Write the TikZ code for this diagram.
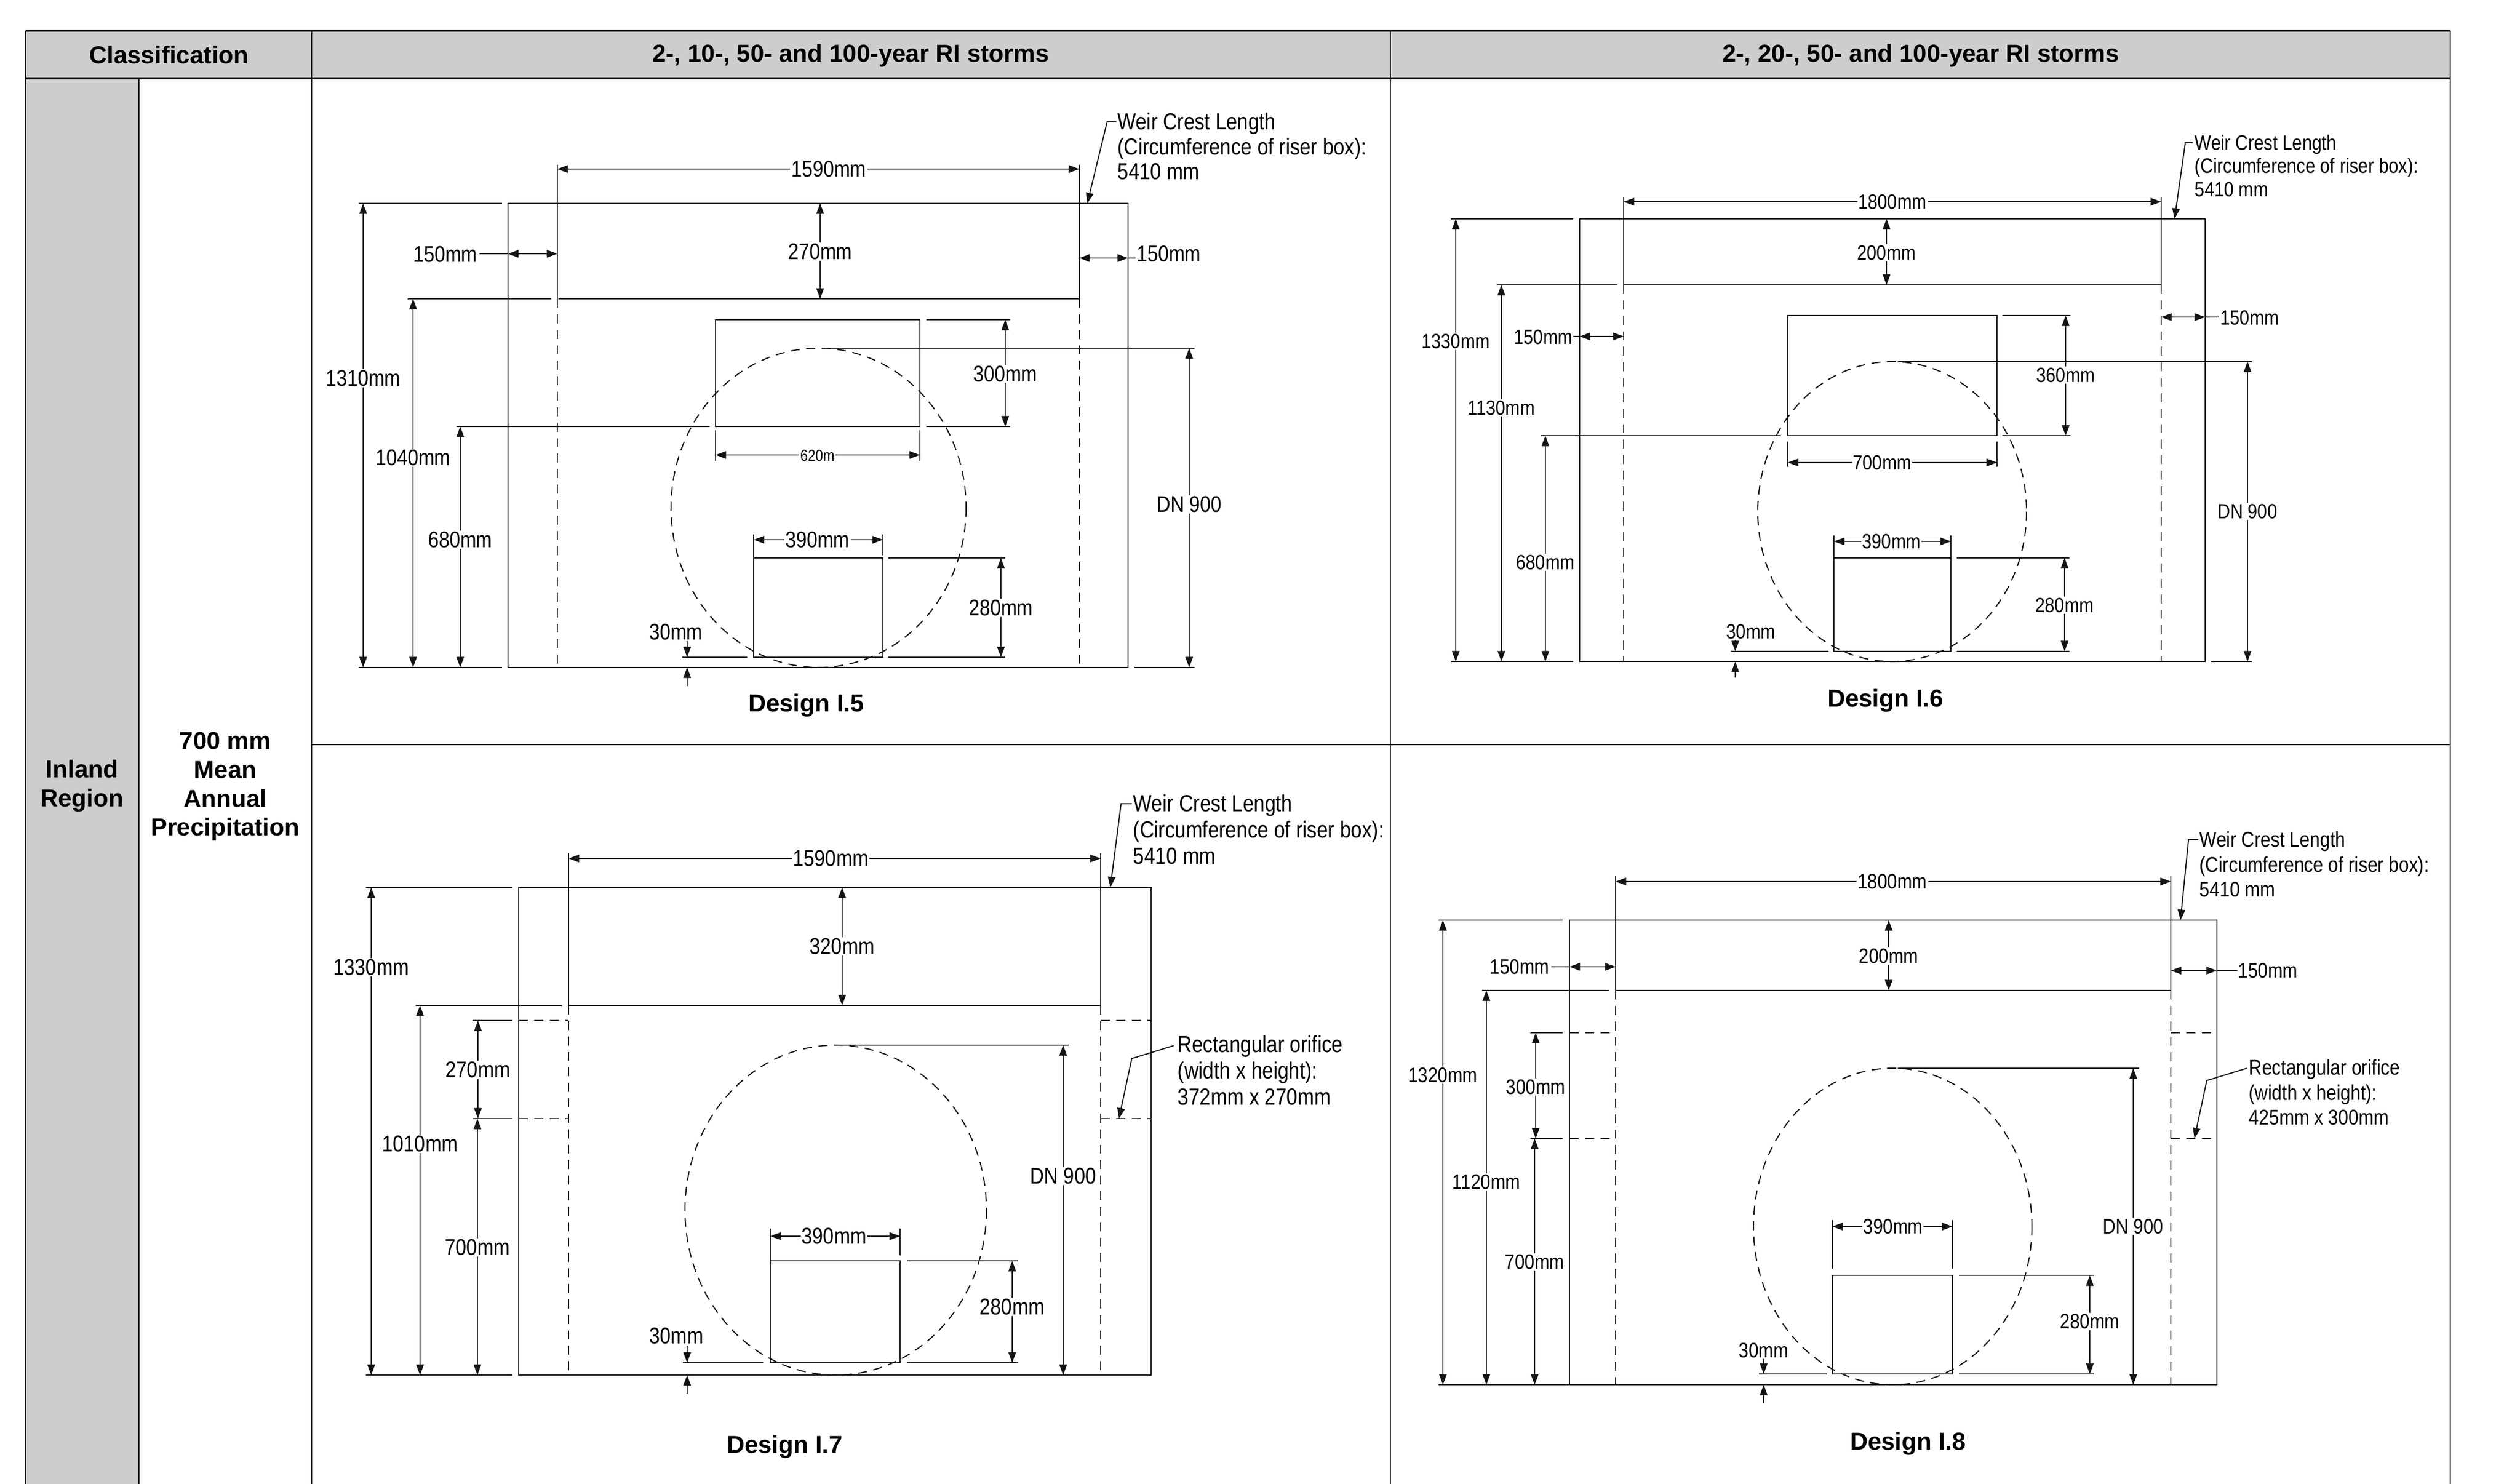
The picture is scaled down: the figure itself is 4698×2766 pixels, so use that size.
\documentclass[tikz,border=0pt]{standalone}
\usepackage{fontspec}
\usetikzlibrary{arrows.meta}
\setmainfont{Liberation Sans}
\newfontfamily\dimfam[FakeStretch=0.85]{Liberation Sans}
\definecolor{headgray}{RGB}{206,205,206}
\definecolor{inkgray}{RGB}{20,20,20}
\newcommand{\panelfont}[2]{\dimfam\fontsize{#1}{#2}\selectfont}
\tikzset{
    gridline/.style={line width=0.6pt},
    headline/.style={line width=0.9pt},
    plainln/.style={line width=0.65pt, draw=inkgray},
    hiddenln/.style={line width=0.6pt, draw=inkgray, dash pattern=on 4.8pt off 3.4pt},
    dimline/.style={line width=0.58pt, draw=inkgray, {Triangle[length=5.6pt,width=4pt]}-{Triangle[length=5.6pt,width=4pt]}},
    leaderln/.style={line width=0.58pt, draw=inkgray, -{Triangle[length=5.6pt,width=4pt]}},
    lbl/.style={fill=white, inner sep=0.6pt, text=black},
    note/.style={anchor=west, align=left, inner sep=0pt, text=black},
    headtext/.style={font=\fontsize{13}{15.3}\selectfont\bfseries, align=center, inner sep=0pt},
    designtext/.style={font=\fontsize{13}{15}\selectfont\bfseries, inner sep=0pt}
}
\begin{document}
\begin{tikzpicture}[x=0.01cm, y=-0.01cm]
\useasboundingbox (0,0) rectangle (4698,2766);
% table
\fill[headgray] (48,57) rectangle (4568,146);
\fill[headgray] (48,146) rectangle (259,2766);
\draw[gridline] (48,57) -- (48,2766) (259,146) -- (259,2766) (581,57) -- (581,2766)
    (2592,57) -- (2592,2766) (4568,57) -- (4568,2766) (581,1388) -- (4568,1388);
\draw[headline] (48,57) -- (4568,57) (48,146) -- (4568,146);
\node[headtext] (classhead) at (315,102) {Classification};
\node[headtext] (stormsa) at (1586,104) {2-, 10-, 50- and 100-year RI storms};
\node[headtext] (stormsb) at (3581,104) {2-, 20-, 50- and 100-year RI storms};
\node[headtext] (region) at (153,1465) {Inland\\Region};
\node[headtext] (precip) at (420,1466) {700 mm\\Mean\\Annual\\Precipitation};

% Design I.5
\begin{scope}[lbl/.append style={font=\panelfont{12}{13.2}}, note/.append style={font=\panelfont{12.25}{13.2}}]
\draw[plainln] (947,379) rectangle (2103,1244);
\draw[plainln] (669,379) -- (936,379) (669,1244) -- (936,1244) (2115,1244) -- (2227,1244)
    (1039,307) -- (1039,557) (2012,307) -- (2012,557) (1041,557) -- (2012,557) (760,557) -- (1028,557)
    (1334,596) rectangle (1715,795) (1727,596) -- (1883,596) (1727,795) -- (1883,795) (851,795) -- (1323,795)
    (1334,802) -- (1334,859) (1715,802) -- (1715,859)
    (1405,1040) rectangle (1646,1225) (1656,1040) -- (1874,1040) (1656,1225) -- (1874,1225) (1272,1225) -- (1393,1225)
    (1405,996) -- (1405,1040) (1646,996) -- (1646,1035) (1541,649) -- (2227,649)
    (894,473) -- (947,473) (2103,481) -- (2119,481) (1281,1189) -- (1281,1225);
\draw[hiddenln] (1039,557) -- (1039,1244) (2012,557) -- (2012,1244);
\draw[hiddenln] (1526,946.5) ellipse [x radius=275, y radius=297.5];
\foreach \x/\a/\b/\ly/\t in {677/379/1244/705/1310mm, 770/557/1244/853/1040mm, 858/795/1244/1006/680mm,
    1529/379/557/469/270mm, 1874/596/795/697/300mm, 1866/1040/1225/1133/280mm, 2217/649/1244/940/DN 900}{
    \draw[dimline] (\x,\a) -- (\x,\b);
    \node[lbl] (pa-v\x) at (\x,\ly) {\t};
}
\foreach \y/\a/\b/\lx/\t in {315/1039/2012/1545/1590mm, 1006/1405/1646/1524/390mm}{
    \draw[dimline] (\a,\y) -- (\b,\y);
    \node[lbl] (pa-h\a) at (\lx,\y) {\t};
}
\draw[dimline] (947,473) -- (1039,473);
\draw[dimline] (2012,481) -- (2103,481);
\draw[dimline] (1334,848) -- (1715,848);
\draw[leaderln] (1281,1200) -- (1281,1225);
\draw[leaderln] (1281,1279) -- (1281,1244);
\draw[leaderln] (2081,227) -- (2064,227) -- (2027,379);
\node[lbl, font=\panelfont{8.5}{10}] (pa-win) at (1524,849) {620m};
\node[lbl] (pa-left) at (830,474) {150mm};
\node[lbl] (pa-right) at (2179,473) {150mm};
\node[lbl] (pa-gap) at (1260,1178) {30mm};
\node[note] (pa-weir) at (2083,273) {Weir Crest Length\\(Circumference of riser box):\\5410 mm};
\node[designtext] (pa-title) at (1503,1315) {Design I.5};
\end{scope}

% Design I.6
\begin{scope}[lbl/.append style={font=\panelfont{10.9}{12.3}}, note/.append style={font=\panelfont{11}{12.3}}]
\draw[plainln] (2945,408) rectangle (4111,1233);
\draw[plainln] (2705,408) -- (2933,408) (2705,1233) -- (2933,1233) (4122,1233) -- (4198,1233)
    (3027,367) -- (3027,531) (4029,367) -- (4029,531) (3027,531) -- (4029,531) (2791,531) -- (3015,531)
    (3333,588) rectangle (3723,812) (3733,588) -- (3860,588) (3733,812) -- (3860,812) (2873,812) -- (3320,812)
    (3333,823) -- (3333,870) (3723,823) -- (3723,870)
    (3419,1040) rectangle (3637,1214) (3648,1040) -- (3858,1040) (3648,1214) -- (3858,1214) (3227,1214) -- (3409,1214)
    (3419,998) -- (3419,1040) (3637,998) -- (3637,1040) (3538,674) -- (4198,674)
    (2931,627) -- (2945,627) (4111,591) -- (4137,591);
\draw[hiddenln] (3027,531) -- (3027,1233) (4029,531) -- (4029,1233);
\draw[hiddenln] (3527.5,953.5) ellipse [x radius=250.5, y radius=279.5];
\foreach \x/\a/\b/\ly/\t in {2714/408/1233/636/1330mm, 2799/531/1233/760/1130mm, 2881/812/1233/1048/680mm,
    3517/408/531/471/200mm, 3851/588/812/699/360mm, 3849/1040/1214/1128/280mm, 4190/674/1233/953/DN 900}{
    \draw[dimline] (\x,\a) -- (\x,\b);
    \node[lbl] (pb-v\x) at (\x,\ly) {\t};
}
\foreach \y/\a/\b/\lx/\t in {376/3027/4029/3528/1800mm, 862/3333/3723/3509/700mm, 1009/3419/3637/3526/390mm}{
    \draw[dimline] (\a,\y) -- (\b,\y);
    \node[lbl] (pb-h\a) at (\lx,\y) {\t};
}
\draw[dimline] (2945,627) -- (3027,627);
\draw[dimline] (4029,591) -- (4111,591);
\draw[leaderln] (3235,1193) -- (3235,1214);
\draw[leaderln] (3235,1263) -- (3235,1233);
\draw[leaderln] (4088,266) -- (4074,266) -- (4054,408);
\node[lbl] (pb-left) at (2877,628) {150mm};
\node[lbl] (pb-right) at (4194,592) {150mm};
\node[lbl] (pb-gap) at (3264,1177) {30mm};
\node[note] (pb-weir) at (4091,309) {Weir Crest Length\\(Circumference of riser box):\\5410 mm};
\node[designtext] (pb-title) at (3515,1306) {Design I.6};
\end{scope}

% Design I.7
\begin{scope}[lbl/.append style={font=\panelfont{12.1}{13.9}}, note/.append style={font=\panelfont{12.35}{13.9}}]
\draw[plainln] (967,1654) rectangle (2146,2563);
\draw[plainln] (682,1654) -- (955,1654) (682,2563) -- (955,2563)
    (1060,1590) -- (1060,1874) (2052,1590) -- (2052,1874) (1060,1874) -- (2052,1874) (775,1874) -- (1048,1874)
    (882,1902) -- (955,1902) (882,2085) -- (955,2085)
    (1436,2540) -- (1436,2350) -- (1678,2350) -- (1678,2540) -- cycle (1691,2350) -- (1898,2350) (1691,2540) -- (1898,2540) (1273,2540) -- (1423,2540)
    (1436,2290) -- (1436,2350) (1678,2290) -- (1678,2340) (1564,1948) -- (1992,1948)
    (1281,2508) -- (1281,2540);
\draw[hiddenln] (1060,1874) -- (1060,2563) (2052,1874) -- (2052,2563) (967,1902) -- (1060,1902) (967,2085) -- (1060,2085)
    (2052,1902) -- (2146,1902) (2052,2085) -- (2146,2085);
\draw[hiddenln] (1558,2255.5) ellipse [x radius=281, y radius=307.5];
\foreach \x/\a/\b/\ly/\t in {692/1654/2563/1803/1330mm, 783/1874/2563/2132/1010mm, 891/1902/2085/1994/270mm,
    890/2085/2563/2325/700mm, 1570/1654/1874/1764/320mm, 1887/2350/2540/2436/280mm, 1982/1948/2563/2192/DN 900}{
    \draw[dimline] (\x,\a) -- (\x,\b);
    \node[lbl] (pc-v\x) at (\x,\ly) {\t};
}
\foreach \y/\a/\b/\lx/\t in {1600/1060/2052/1549/1590mm, 2304/1436/1678/1555/390mm}{
    \draw[dimline] (\a,\y) -- (\b,\y);
    \node[lbl] (pc-h\a) at (\lx,\y) {\t};
}
\draw[leaderln] (1281,2520) -- (1281,2540);
\draw[leaderln] (1281,2598) -- (1281,2563);
\draw[leaderln] (2110,1498) -- (2090,1498) -- (2070,1654);
\draw[leaderln] (2188,1949) -- (2110,1973) -- (2086,2085);
\node[lbl] (pc-gap) at (1261,2490) {30mm};
\node[note] (pc-weir) at (2112,1546) {Weir Crest Length\\(Circumference of riser box):\\5410 mm};
\node[note] (pc-orifice) at (2195,1995) {Rectangular orifice\\(width x height):\\372mm x 270mm};
\node[designtext] (pc-title) at (1463,2697) {Design I.7};
\end{scope}

% Design I.8
\begin{scope}[lbl/.append style={font=\panelfont{11.1}{13.2}}, note/.append style={font=\panelfont{11.3}{13.2}}]
\draw[plainln] (2926,1715) rectangle (4133,2581);
\draw[plainln] (2682,1715) -- (2913,1715) (2682,2581) -- (2926,2581)
    (3012,1633) -- (3012,1846) (4047,1633) -- (4047,1846) (3012,1846) -- (4047,1846) (2763,1846) -- (3000,1846)
    (2853,1925) -- (2913,1925) (2853,2122) -- (2913,2122)
    (3416,2561) -- (3416,2377) -- (3640,2377) -- (3640,2561) -- cycle (3652,2377) -- (3904,2377) (3652,2561) -- (3904,2561) (3279,2561) -- (3406,2561)
    (3416,2274) -- (3416,2365) (3640,2274) -- (3640,2365) (3538,1991) -- (3988,1991)
    (2892,1802) -- (2926,1802) (4133,1809) -- (4171,1809) (3288,2533) -- (3288,2561);
\draw[hiddenln] (3012,1846) -- (3012,2581) (4047,1846) -- (4047,2581) (2926,1925) -- (3012,1925) (2926,2122) -- (3012,2122)
    (4047,1925) -- (4133,1925) (4047,2122) -- (4133,2122);
\draw[hiddenln] (3528.5,2286) ellipse [x radius=259.5, y radius=295];
\foreach \x/\a/\b/\ly/\t in {2690/1715/2581/2004/1320mm, 2771/1846/2581/2203/1120mm, 2863/1925/2122/2026/300mm,
    2861/2122/2581/2352/700mm, 3521/1715/1846/1782/200mm, 3896/2377/2561/2463/280mm, 3977/1991/2581/2286/DN 900}{
    \draw[dimline] (\x,\a) -- (\x,\b);
    \node[lbl] (pd-v\x) at (\x,\ly) {\t};
}
\foreach \y/\a/\b/\lx/\t in {1643/3012/4047/3528/1800mm, 2286/3416/3640/3529/390mm}{
    \draw[dimline] (\a,\y) -- (\b,\y);
    \node[lbl] (pd-h\a) at (\lx,\y) {\t};
}
\draw[dimline] (2926,1802) -- (3012,1802);
\draw[dimline] (4047,1809) -- (4133,1809);
\draw[leaderln] (3288,2540) -- (3288,2561);
\draw[leaderln] (3288,2615) -- (3288,2581);
\draw[leaderln] (4098,1565) -- (4080,1565) -- (4065,1715);
\draw[leaderln] (4189,1991) -- (4114,2014) -- (4091,2122);
\node[lbl] (pd-left) at (2833,1802) {150mm};
\node[lbl] (pd-right) at (4228,1809) {150mm};
\node[lbl] (pd-gap) at (3288,2517) {30mm};
\node[note] (pd-weir) at (4100,1611) {Weir Crest Length\\(Circumference of riser box):\\5410 mm};
\node[note] (pd-orifice) at (4192,2036) {Rectangular orifice\\(width x height):\\425mm x 300mm};
\node[designtext] (pd-title) at (3557,2691) {Design I.8};
\end{scope}
\end{tikzpicture}
\end{document}
